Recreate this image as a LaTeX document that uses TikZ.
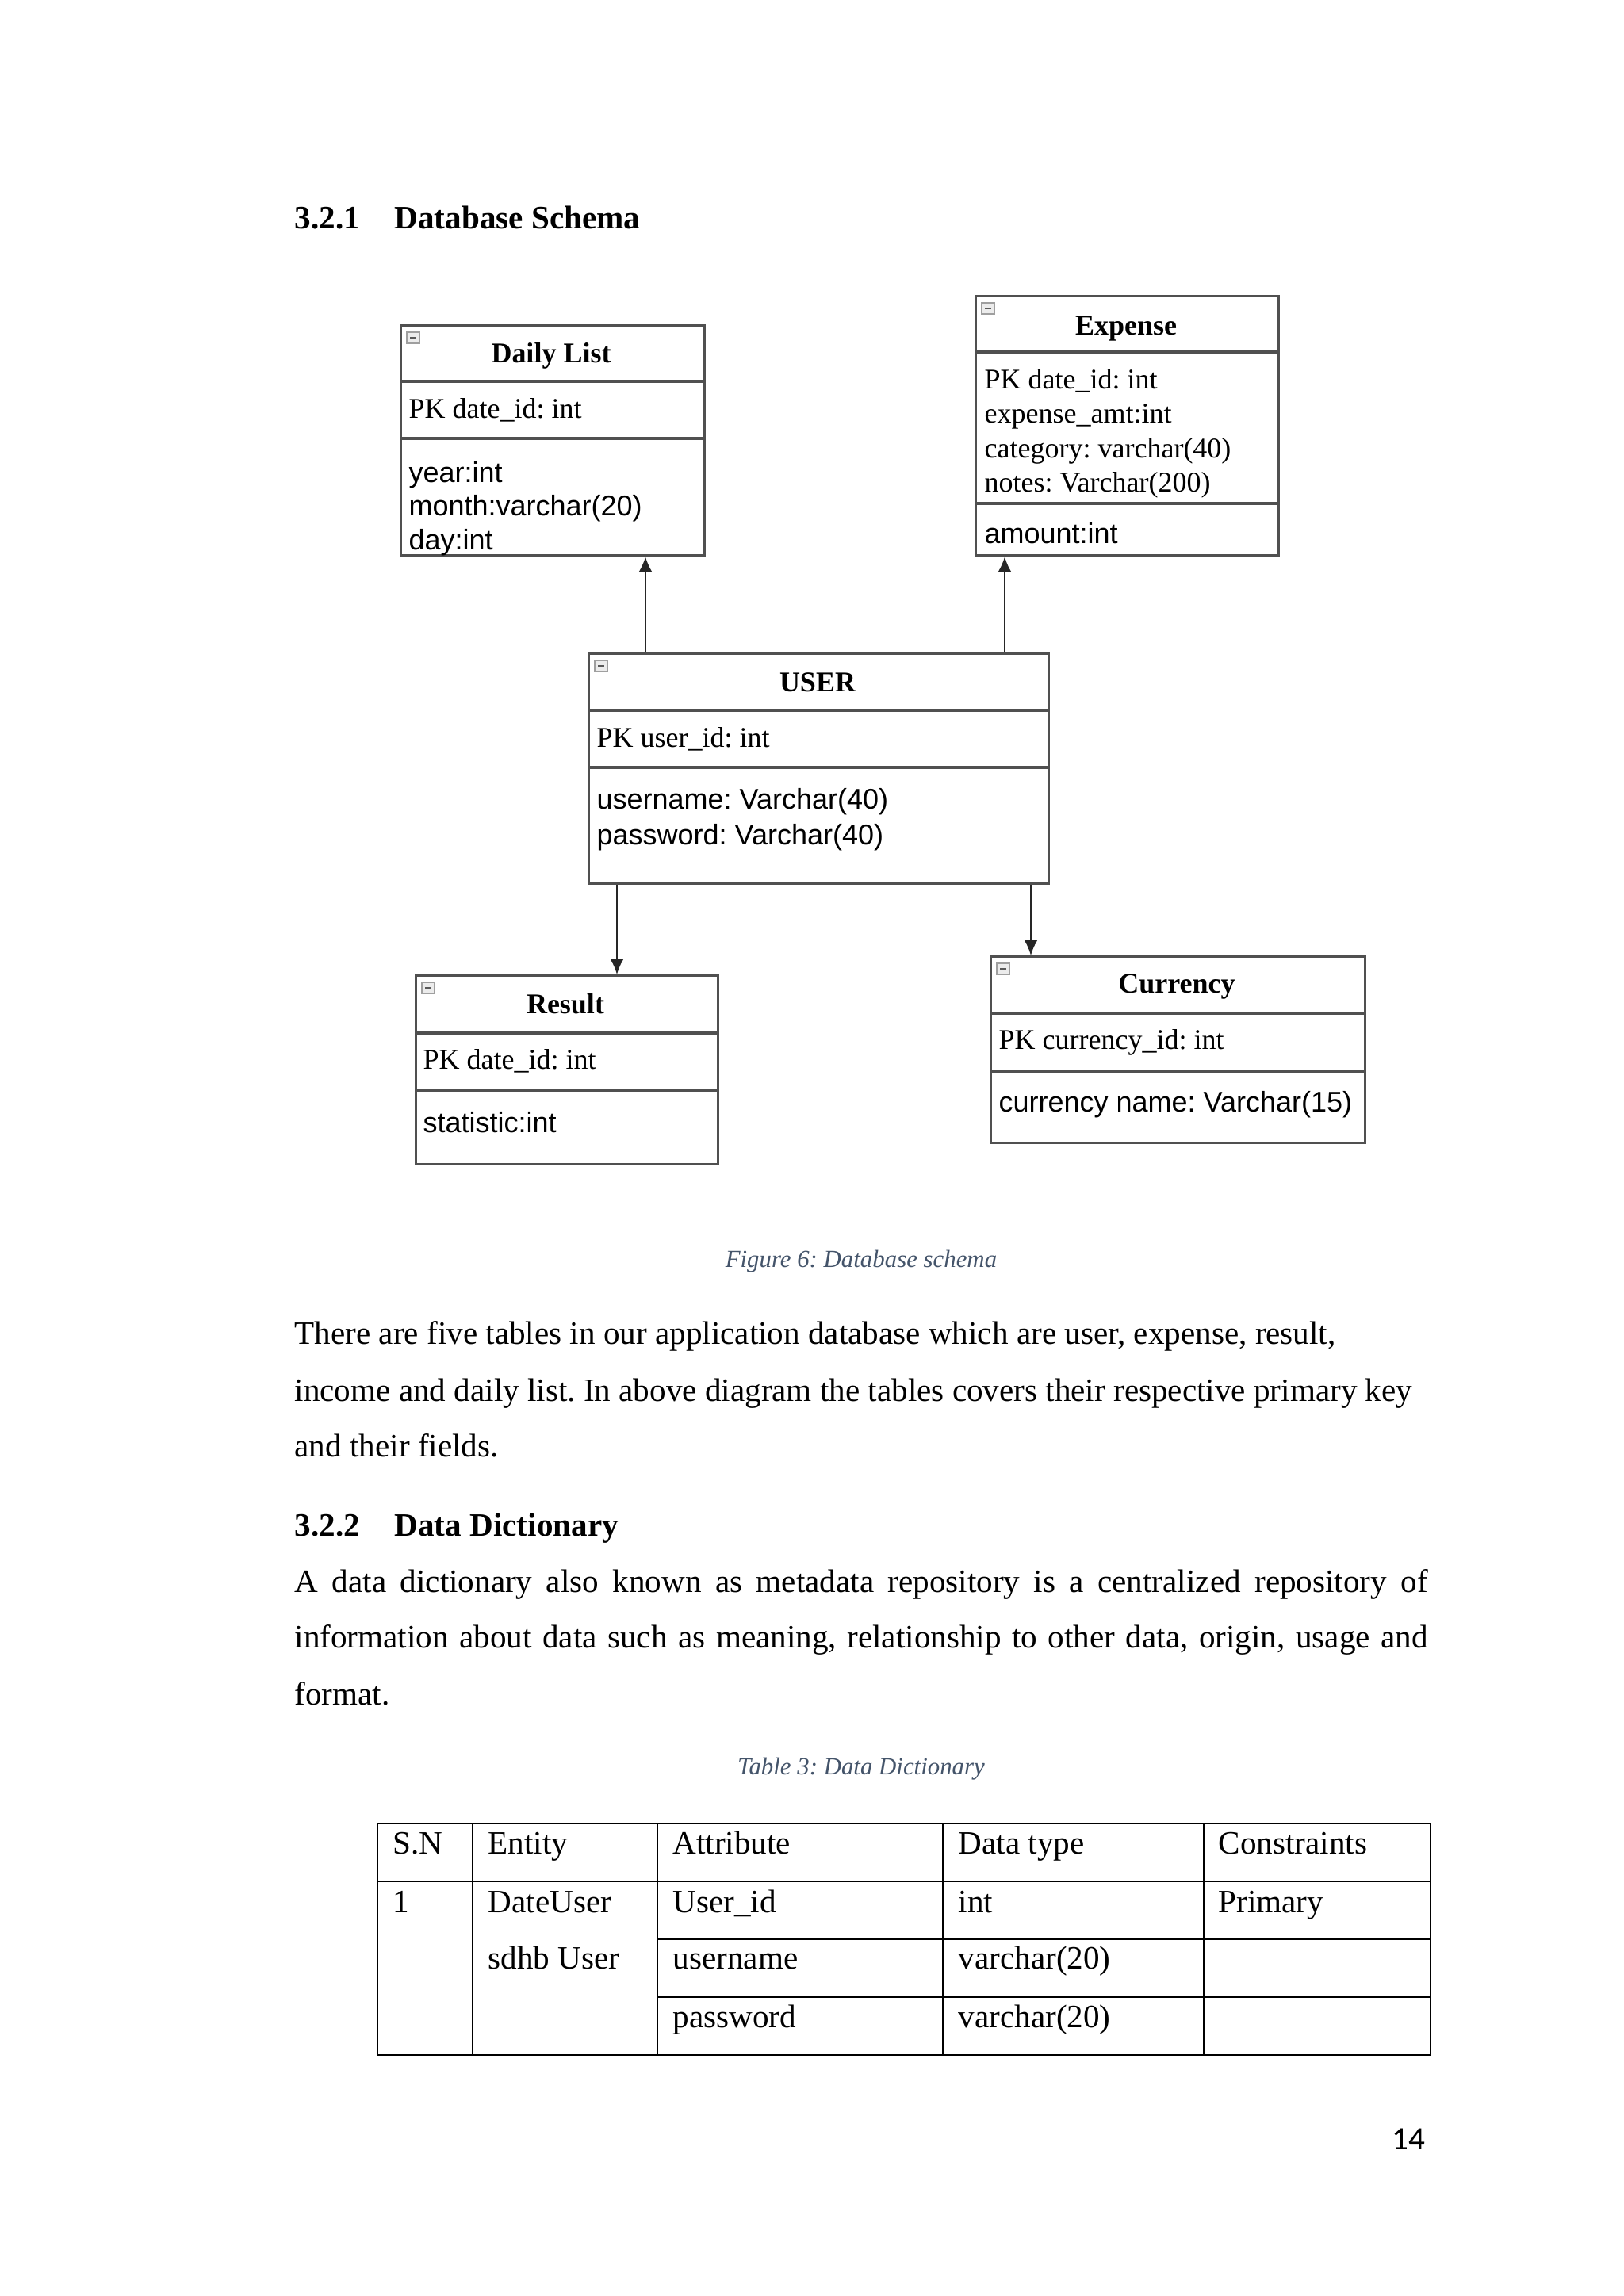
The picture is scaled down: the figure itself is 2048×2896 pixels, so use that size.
\documentclass[tikz,border=0pt]{standalone}
\usepackage{fontspec}
\setmainfont{Liberation Serif}
\setsansfont{Liberation Sans}
\newfontfamily\numfont{Carlito}
\usetikzlibrary{positioning, arrows.meta, calc}
\definecolor{boxgray}{RGB}{80,80,80}
\definecolor{capblue}{RGB}{68,84,106}
\newdimen\pxu
\pxu=0.10254mm
\frenchspacing
\tikzset{
  entity/.style={draw=boxgray, line width=0.9pt, inner sep=0, anchor=north west},
  divider/.style={draw=boxgray, line width=0.9pt},
  icon/.style={draw=gray!75, fill=gray!15, line width=0.5pt, minimum width=16\pxu,
    minimum height=14\pxu, inner sep=0, path picture={
      \draw[black!65, line width=0.8pt] ($(path picture bounding box.west)+(4,0)$)
        -- ($(path picture bounding box.east)+(-4,0)$);}},
  enttitle/.style={font=\fontsize{10.5}{12}\selectfont\bfseries, anchor=base, inner sep=0},
  pkey/.style={font=\fontsize{10.5}{12}\selectfont, anchor=base west, inner sep=0},
  field/.style={font=\fontsize{10.5}{12}\selectfont\sffamily, anchor=base west, inner sep=0},
  link/.style={draw=black!85, line width=0.6pt, -{Latex[length=5.5pt,width=4.8pt]}},
  heading/.style={font=\fontsize{12}{14}\selectfont\bfseries, anchor=base west, inner sep=0},
  body/.style={font=\fontsize{12}{14}\selectfont, anchor=base west, inner sep=0},
  capt/.style={font=\fontsize{9}{11}\selectfont\itshape, text=capblue, anchor=base, inner sep=0},
  tabline/.style={draw=black, line width=0.5pt}
}

\begin{document}
\begin{tikzpicture}[x=\pxu, y=-\pxu]

\fill[white] (0,0) rectangle (2048,2896);
\useasboundingbox (0,0) rectangle (2048,2896);

\node[heading] (sec1-no) at (371,288) {3.2.1};
\node[heading] (sec1) at (497,288) {Database Schema};

% entity boxes
\node[entity, minimum width=383\pxu, minimum height=290\pxu] (daily) at (504,409) {};
\draw[divider] ([yshift=-72\pxu]daily.north west) -- ([yshift=-72\pxu]daily.north east);
\draw[divider] ([yshift=-144\pxu]daily.north west) -- ([yshift=-144\pxu]daily.north east);
\node[icon] (daily-ic) at (521,426) {};
\node[enttitle] (daily-t) at (695,457) {Daily List};
\node[pkey] (daily-pk) at (515,527) {PK date\_id: int};
\node[field] (daily-a1) at (515,608) {year:int};
\node[field] (daily-a2) at (515,650) {month:varchar(20)};
\node[field] (daily-a3) at (515,693) {day:int};

\node[entity, minimum width=382\pxu, minimum height=327\pxu] (expense) at (1229,372) {};
\draw[divider] ([yshift=-72\pxu]expense.north west) -- ([yshift=-72\pxu]expense.north east);
\draw[divider] ([yshift=-263\pxu]expense.north west) -- ([yshift=-263\pxu]expense.north east);
\node[icon] (expense-ic) at (1246,389) {};
\node[enttitle] (expense-t) at (1420,422) {Expense};
\node[pkey] (expense-pk) at (1241,490) {PK date\_id: int};
\node[pkey] (expense-a1) at (1241,533) {expense\_amt:int};
\node[pkey] (expense-a2) at (1241,577) {category: varchar(40)};
\node[pkey] (expense-a3) at (1241,620) {notes: Varchar(200)};
\node[field] (expense-a4) at (1241,685) {amount:int};

\node[entity, minimum width=580\pxu, minimum height=290\pxu] (user) at (741,823) {};
\draw[divider] ([yshift=-73\pxu]user.north west) -- ([yshift=-73\pxu]user.north east);
\draw[divider] ([yshift=-145\pxu]user.north west) -- ([yshift=-145\pxu]user.north east);
\node[icon] (user-ic) at (758,840) {};
\node[enttitle] (user-t) at (1031,872) {USER};
\node[pkey] (user-pk) at (752,942) {PK user\_id: int};
\node[field] (user-a1) at (752,1020) {username: Varchar(40)};
\node[field] (user-a2) at (752,1065) {password: Varchar(40)};

\node[entity, minimum width=381\pxu, minimum height=238\pxu] (result) at (523,1229) {};
\draw[divider] ([yshift=-74\pxu]result.north west) -- ([yshift=-74\pxu]result.north east);
\draw[divider] ([yshift=-146\pxu]result.north west) -- ([yshift=-146\pxu]result.north east);
\node[icon] (result-ic) at (540,1246) {};
\node[enttitle] (result-t) at (713,1278) {Result};
\node[pkey] (result-pk) at (533,1348) {PK date\_id: int};
\node[field] (result-a1) at (533,1428) {statistic:int};

\node[entity, minimum width=472\pxu, minimum height=235\pxu] (currency) at (1248,1205) {};
\draw[divider] ([yshift=-73\pxu]currency.north west) -- ([yshift=-73\pxu]currency.north east);
\draw[divider] ([yshift=-146\pxu]currency.north west) -- ([yshift=-146\pxu]currency.north east);
\node[icon] (currency-ic) at (1265,1222) {};
\node[enttitle] (currency-t) at (1484,1252) {Currency};
\node[pkey] (currency-pk) at (1259,1323) {PK currency\_id: int};
\node[field] (currency-a1) at (1259,1402) {currency name: Varchar(15)};

% links
\coordinate (x-daily) at (814,0);
\coordinate (x-expense) at (1267,0);
\coordinate (x-result) at (778,0);
\coordinate (x-currency) at (1300,0);
\draw[link] (user.north -| x-daily) -- (daily.south -| x-daily);
\draw[link] (user.north -| x-expense) -- (expense.south -| x-expense);
\draw[link] (user.south -| x-result) -- (result.north -| x-result);
\draw[link] (user.south -| x-currency) -- (currency.north -| x-currency);

\node[capt] (fig-cap) at (1086,1598) {Figure 6: Database schema};

\node[body] (p1-l1) at (371,1695) {There are five tables in our application database which are user, expense, result,};
\node[body] (p1-l2) at (371,1767) {income and daily list. In above diagram the tables covers their respective primary key};
\node[body] (p1-l3) at (371,1837) {and their fields.};

\node[heading] (sec2-no) at (371,1937) {3.2.2};
\node[heading] (sec2) at (497,1937) {Data Dictionary};

\node[body] (p2-l1) at (371,2008) {\makebox[1429\pxu][s]{A data dictionary also known as metadata repository is a centralized repository of}};
\node[body] (p2-l2) at (371,2078) {\makebox[1429\pxu][s]{information about data such as meaning, relationship to other data, origin, usage and}};
\node[body] (p2-l3) at (371,2150) {format.};

\node[capt] (tab-cap) at (1086,2238) {Table 3: Data Dictionary};

% table
\draw[tabline] (476,2300) rectangle (1804,2592);
\draw[tabline] (476,2373) -- (1804,2373);
\draw[tabline] (829,2446) -- (1804,2446);
\draw[tabline] (829,2519) -- (1804,2519);
\foreach \cx in {596,829,1189,1518}
  \draw[tabline] (\cx,2300) -- (\cx,2592);

\node[body] (h-sn) at (495,2338) {S.N};
\node[body] (h-ent) at (615,2338) {Entity};
\node[body] (h-att) at (848,2338) {Attribute};
\node[body] (h-dt) at (1208,2338) {Data type};
\node[body] (h-con) at (1536,2338) {Constraints};

\node[body] (r-sn) at (495,2412) {1};
\node[body] (r-ent1) at (615,2412) {DateUser};
\node[body] (r-ent2) at (615,2483) {sdhb User};
\node[body] (r1-att) at (848,2412) {User\_id};
\node[body] (r1-dt) at (1208,2412) {int};
\node[body] (r1-con) at (1536,2412) {Primary};
\node[body] (r2-att) at (848,2483) {username};
\node[body] (r2-dt) at (1208,2483) {varchar(20)};
\node[body] (r3-att) at (848,2557) {password};
\node[body] (r3-dt) at (1208,2557) {varchar(20)};

\node[font=\numfont\fontsize{12}{14}\selectfont, anchor=base east, inner sep=0] (page-no) at (1798,2711) {14};

\end{tikzpicture}
\end{document}
